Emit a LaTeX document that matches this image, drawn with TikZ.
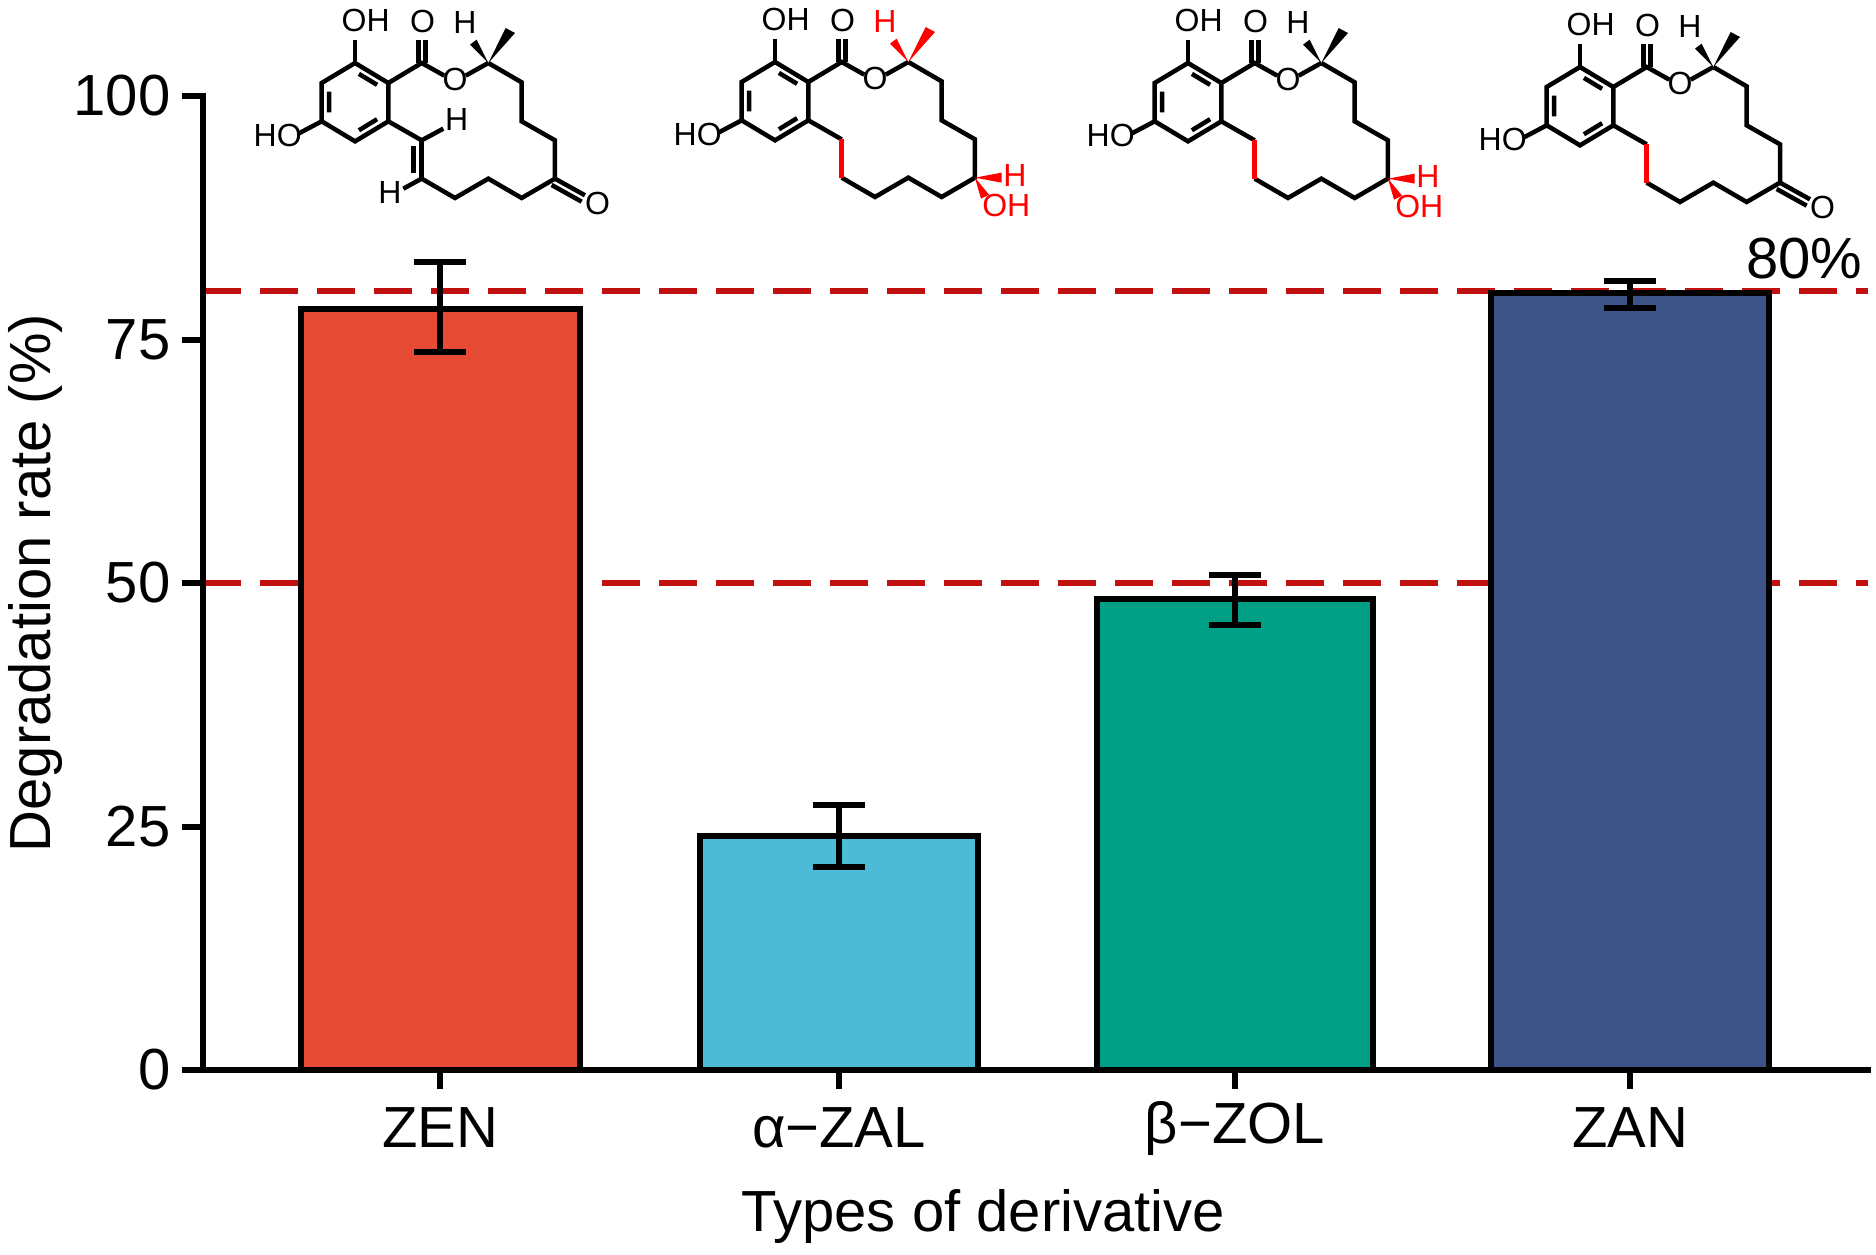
\documentclass[tikz,border=0pt]{standalone}
\usepackage{fontspec}
\setmainfont{Liberation Sans}
\definecolor{cZEN}{HTML}{E64B35}
\definecolor{cZAL}{HTML}{4DBBD5}
\definecolor{cZOL}{HTML}{00A087}
\definecolor{cZAN}{HTML}{3C5488}
\definecolor{dred}{RGB}{192,16,16}
\definecolor{chemred}{RGB}{255,0,0}
\tikzset{
  bar/.style={draw=black,line width=6pt},
  ax/.style={line width=6pt,line cap=rect},
  eb/.style={line width=5.5pt},
  ref/.style={dred,line width=5.5pt,dash pattern=on 38pt off 19pt},
  tk/.style={font=\fontsize{58}{60}\selectfont},
  lab/.style={font=\fontsize{32}{34}\selectfont,inner sep=0pt},
  bond/.style={line width=4.5pt,line join=miter},
}
\newcommand\ring{%
  \draw[bond] (0,0)--(100,60)--(100,175)--(0,235)--(-100,175)--(-100,60)--cycle;
  \draw[bond] (11.7,32.7)--(66.3,65.5) (66.3,168.6)--(11.7,201.9) (-78,148.2)--(-78,85.9);
  \draw[bond] (0,0)--(0,-70);
  \node[lab] at (32,-128) {OH};
  \draw[bond] (-100,175)--(-170,212);
  \node[lab] at (-232,218) {HO};
  \draw[bond] (100,60)--(200,0)--(268,38) (332,38)--(400,0);
  \draw[bond] (190,0)--(190,-70) (212,0)--(212,-70);
  \node[lab] at (203,-125) {O};
  \node[lab] at (300,48) {O};
  \draw[bond] (400,0)--(500,58)--(500,175)--(600,232)--(600,347)--(500,405)--(400,347)--(300,405)--(200,347);
  \draw[bond] (200,232)--(100,175);
}
\newcommand\stereo[1]{%
  \fill[#1] (400,0)--(452,-105)--(480,-90)--cycle;
  \fill[#1] (400,0)--(345,-55)--(365,-70)--cycle;
  \node[lab,text=#1] at (330,-122) {H};
}
\newcommand\ketone{%
  \draw[bond] (600,347)--(690,397) (590,366)--(680,416);
  \node[lab] at (728,420) {O};
}
\newcommand\ohgroup{%
  \fill[chemred] (600,347)--(680,332)--(680,362)--cycle;
  \node[lab,text=chemred] at (720,340) {H};
  \fill[chemred] (600,347)--(618,410)--(642,398)--cycle;
  \node[lab,text=chemred] at (694,430) {OH};
}
\begin{document}
\begin{tikzpicture}[x=1pt,y=-1pt]
\useasboundingbox (0,0) rectangle (1876,1255);
% reference lines
\draw[ref] (203,291) -- (1868,291);
\draw[ref] (203,583) -- (1868,583);
\node[tk,anchor=south east] (p80) at (1866,283) {80\%};
% bars
\draw[bar,fill=cZEN] (301,1070) rectangle (580,309);
\draw[bar,fill=cZAL] (700,1070) rectangle (978,836);
\draw[bar,fill=cZOL] (1097,1070) rectangle (1373,599);
\draw[bar,fill=cZAN] (1491,1070) rectangle (1769,293);
% error bars
\foreach \xc/\hi/\lo in {440/262/352, 839/805/867, 1235/575/625, 1630/281/308}{
  \draw[eb] (\xc,\hi)--(\xc,\lo);
  \draw[eb] (\xc-26,\hi)--(\xc+26,\hi);
  \draw[eb] (\xc-26,\lo)--(\xc+26,\lo);
}
% axes
\draw[ax] (203,96) -- (203,1070) -- (1868,1070);
\foreach \v/\t in {0/0,25/25,50/50,75/75,100/100}{
  \draw[ax] (185,1070-9.74*\v) -- (203,1070-9.74*\v);
  \node[tk,anchor=east] at (174,1070-9.74*\v) {\t};
}
\foreach \xc/\t in {440/ZEN, 839/α−ZAL, 1235/β−ZOL, 1630/ZAN}{
  \draw[ax] (\xc,1070) -- (\xc,1086);
  \node[tk] at (\xc,1128) {\t};
}
\node[tk] (xt) at (983,1216) {Types of derivative};
\node[tk,rotate=90] (yt) at (36,583) {Degradation rate (\%)};
% structures
\begin{scope}[shift={(355,63)},x=0.3333pt,y=-0.3333pt]
  \ring \stereo{black} \ketone
  \draw[bond] (200,232)--(200,347) (175,250)--(175,330);
  \draw[bond] (200,232)--(265,197);
  \node[lab] at (305,170) {H};
  \draw[bond] (200,347)--(145,377);
  \node[lab] at (105,390) {H};
\end{scope}
\begin{scope}[shift={(775,62)},x=0.3333pt,y=-0.3333pt]
  \ring \stereo{chemred} \ohgroup
  \draw[bond,chemred] (200,232)--(200,347);
\end{scope}
\begin{scope}[shift={(1188,63)},x=0.3333pt,y=-0.3333pt]
  \ring \stereo{black} \ohgroup
  \draw[bond,chemred] (200,232)--(200,347);
\end{scope}
\begin{scope}[shift={(1580,67)},x=0.3333pt,y=-0.3333pt]
  \ring \stereo{black} \ketone
  \draw[bond,chemred] (200,232)--(200,347);
\end{scope}
\end{tikzpicture}
\end{document}
